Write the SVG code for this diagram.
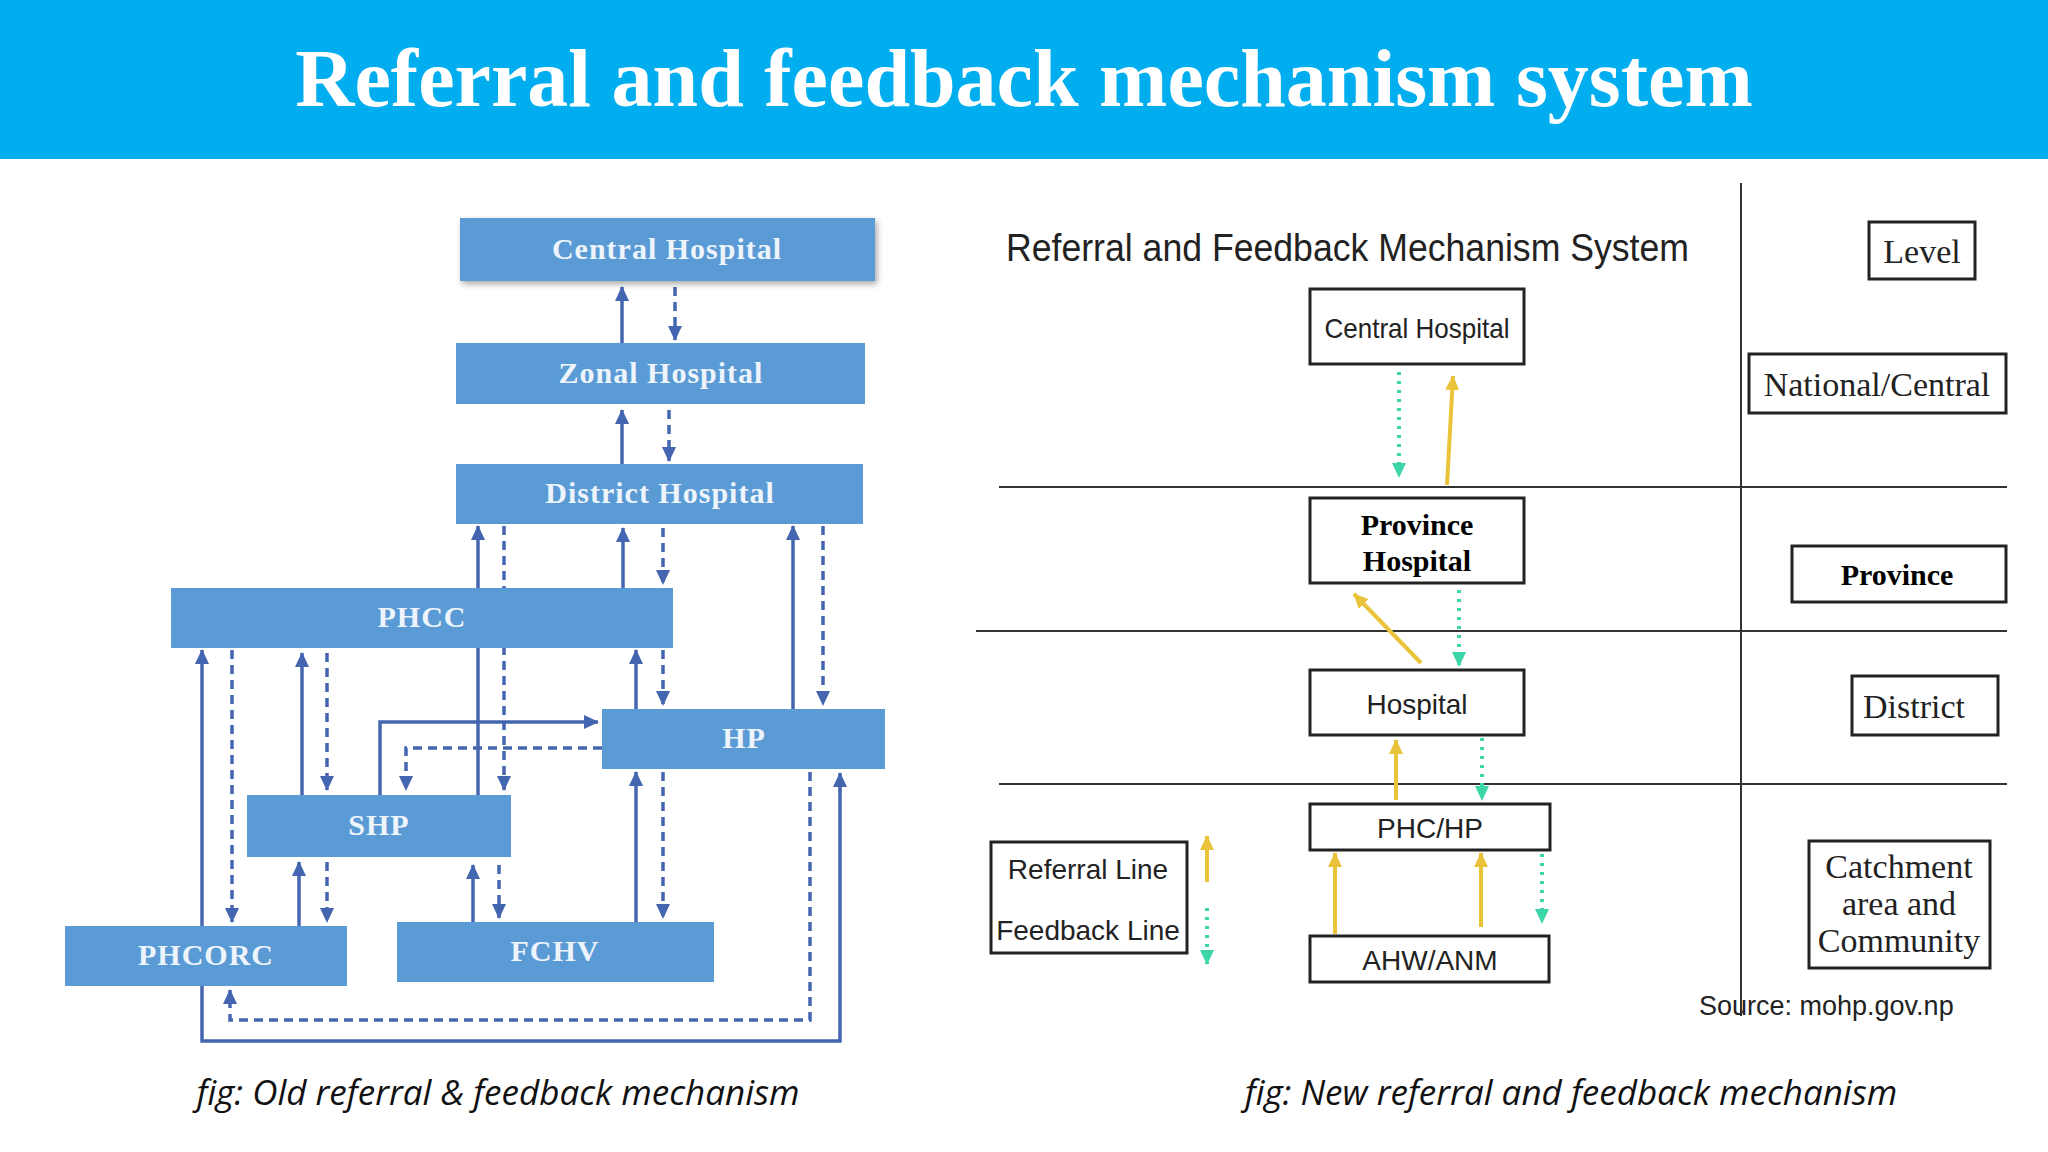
<svg xmlns="http://www.w3.org/2000/svg" width="2048" height="1152" viewBox="0 0 2048 1152">
<defs>
<style>
.bx{fill:#5B9BD5}
.bt{font-family:"Liberation Serif",serif;font-weight:bold;font-size:30px;fill:#EEF4FB;text-anchor:middle;letter-spacing:1px}
.s{stroke:#4466B0;stroke-width:3.5;fill:none;marker-end:url(#ab)}
.d{stroke:#4466B0;stroke-width:3.5;fill:none;stroke-dasharray:9 6;marker-end:url(#ab)}
.wb{fill:#fff;stroke:#222;stroke-width:3}
.nt{font-family:"Liberation Sans",sans-serif;font-size:28px;fill:#222;text-anchor:middle}
.st{font-family:"Liberation Serif",serif;font-size:34px;fill:#222;text-anchor:middle}
.sb{font-family:"Liberation Serif",serif;font-size:30px;font-weight:bold;fill:#000;text-anchor:middle}
.hl{stroke:#333;stroke-width:2}
.y{stroke:#E9C43A;stroke-width:4;fill:none;marker-end:url(#ay)}
.g{stroke:#3DD6A8;stroke-width:4;fill:none;stroke-dasharray:3 6;marker-end:url(#ag)}
.cap{font-family:"Open Sans",sans-serif;font-style:italic;font-size:35px;fill:#111;text-anchor:middle}
</style>
<marker id="ab" markerUnits="userSpaceOnUse" markerWidth="16" markerHeight="16" refX="14" refY="8" orient="auto"><path d="M0,1 L15,8 L0,15 Z" fill="#4466B0"/></marker>
<marker id="ay" markerUnits="userSpaceOnUse" markerWidth="16" markerHeight="16" refX="14" refY="8" orient="auto"><path d="M0,1 L15,8 L0,15 Z" fill="#E9C43A"/></marker>
<marker id="ag" markerUnits="userSpaceOnUse" markerWidth="16" markerHeight="16" refX="14" refY="8" orient="auto"><path d="M0,1 L15,8 L0,15 Z" fill="#3DD6A8"/></marker>
</defs>
<rect width="2048" height="1152" fill="#fff"/>
<rect width="2048" height="159" fill="#00AEEF"/>
<text x="1024" y="106" font-family="Liberation Serif,serif" font-weight="bold" font-size="82" fill="#fff" text-anchor="middle">Referral and feedback mechanism system</text>

<g id="left-connectors">
<path class="s" d="M622,343 V287"/><path class="d" d="M675,287 V340"/>
<path class="s" d="M622,464 V410"/><path class="d" d="M669,410 V461"/>
<path class="s" d="M478,795 V526"/><path class="d" d="M504,526 V790"/>
<path class="s" d="M623,588 V528"/><path class="d" d="M663,528 V584"/>
<path class="s" d="M793,709 V526"/><path class="d" d="M823,526 V705"/>
<path class="s" d="M636,709 V650"/><path class="d" d="M663,650 V705"/>
<path class="s" d="M202,926 V650"/><path class="d" d="M232,650 V922"/>
<path class="s" d="M302,795 V653"/><path class="d" d="M327,653 V790"/>
<path class="s" d="M380,795 V722 H598"/><path class="d" d="M602,748 H406 V790"/>
<path class="s" d="M299,926 V862"/><path class="d" d="M327,862 V922"/>
<path class="s" d="M473,922 V865"/><path class="d" d="M499,865 V918"/>
<path class="s" d="M636,922 V772"/><path class="d" d="M663,772 V918"/>
<path class="s" d="M202,986 V1041 H840 V773"/><path class="d" d="M810,772 V1020 H230 V990"/>
</g>
<g id="central-old"><rect class="bx" x="460" y="218" width="415" height="63" style="filter:drop-shadow(2px 3px 3px rgba(0,0,0,0.35))"/><text class="bt" x="667" y="259">Central Hospital</text></g>
<g id="zonal"><rect class="bx" x="456" y="343" width="409" height="61"/><text class="bt" x="661" y="383">Zonal Hospital</text></g>
<g id="district-old"><rect class="bx" x="456" y="464" width="407" height="60"/><text class="bt" x="660" y="503">District Hospital</text></g>
<g id="phcc"><rect class="bx" x="171" y="588" width="502" height="60"/><text class="bt" x="422" y="627">PHCC</text></g>
<g id="hp"><rect class="bx" x="602" y="709" width="283" height="60"/><text class="bt" x="744" y="748">HP</text></g>
<g id="shp"><rect class="bx" x="247" y="795" width="264" height="62"/><text class="bt" x="379" y="835">SHP</text></g>
<g id="phcorc"><rect class="bx" x="65" y="926" width="282" height="60"/><text class="bt" x="206" y="965">PHCORC</text></g>
<g id="fchv"><rect class="bx" x="397" y="922" width="317" height="60"/><text class="bt" x="555" y="961">FCHV</text></g>
<text class="cap" x="498" y="1105">fig: Old referral &amp; feedback mechanism</text>

<text x="1006" y="261" font-family="Liberation Sans,sans-serif" font-size="38" fill="#222" textLength="683" lengthAdjust="spacingAndGlyphs">Referral and Feedback Mechanism System</text>
<line class="hl" x1="1741" y1="183" x2="1741" y2="1016"/>
<line class="hl" x1="999" y1="487" x2="2007" y2="487"/>
<line class="hl" x1="976" y1="631" x2="2007" y2="631"/>
<line class="hl" x1="999" y1="784" x2="2007" y2="784"/>

<g id="right-connectors">
<path class="g" d="M1399,372 V477"/><path class="y" d="M1447,485 L1453,376"/>
<path class="y" d="M1421,663 L1354,594"/><path class="g" d="M1459,590 V666"/>
<path class="y" d="M1396,800 V740"/><path class="g" d="M1482,738 V800"/>
<path class="y" d="M1335,934 V853"/><path class="y" d="M1481,927 V853"/><path class="g" d="M1542,827 V923"/>
<path class="y" d="M1207,882 V836"/><path class="g" d="M1207,908 V964"/>
</g>
<g id="central-new"><rect class="wb" x="1310" y="289" width="214" height="75"/><text class="nt" x="1417" y="338" textLength="185" lengthAdjust="spacingAndGlyphs">Central Hospital</text></g>
<g id="province-hospital"><rect class="wb" x="1310" y="498" width="214" height="85"/><text class="sb" x="1417" y="535">Province</text><text class="sb" x="1417" y="571">Hospital</text></g>
<g id="hospital"><rect class="wb" x="1310" y="670" width="214" height="65"/><text class="nt" x="1417" y="714">Hospital</text></g>
<g id="phc-hp"><rect class="wb" x="1310" y="804" width="240" height="46"/><text class="nt" x="1430" y="838">PHC/HP</text></g>
<g id="ahw-anm"><rect class="wb" x="1310" y="936" width="239" height="46"/><text class="nt" x="1430" y="970">AHW/ANM</text></g>
<g id="legend"><rect class="wb" x="991" y="842" width="196" height="111"/><text class="nt" x="1088" y="879">Referral Line</text><text class="nt" x="1088" y="940">Feedback Line</text></g>
<g id="level"><rect class="wb" x="1869" y="222" width="106" height="57"/><text class="st" x="1922" y="263">Level</text></g>
<g id="national"><rect class="wb" x="1749" y="354" width="257" height="59"/><text class="st" x="1877" y="396">National/Central</text></g>
<g id="province"><rect class="wb" x="1792" y="546" width="214" height="56"/><text class="sb" x="1897" y="585">Province</text></g>
<g id="district-new"><rect class="wb" x="1852" y="676" width="146" height="59"/><text class="st" x="1914" y="718">District</text></g>
<g id="catchment"><rect class="wb" x="1809" y="841" width="181" height="127"/><text class="st" x="1899" y="878" font-size="29">Catchment</text><text class="st" x="1899" y="915" font-size="29">area and</text><text class="st" x="1899" y="952" font-size="29">Community</text></g>
<text x="1699" y="1015" font-family="Liberation Sans,sans-serif" font-size="27" fill="#222">Source: mohp.gov.np</text>
<text class="cap" x="1571" y="1105">fig: New referral and feedback mechanism</text>
</svg>
